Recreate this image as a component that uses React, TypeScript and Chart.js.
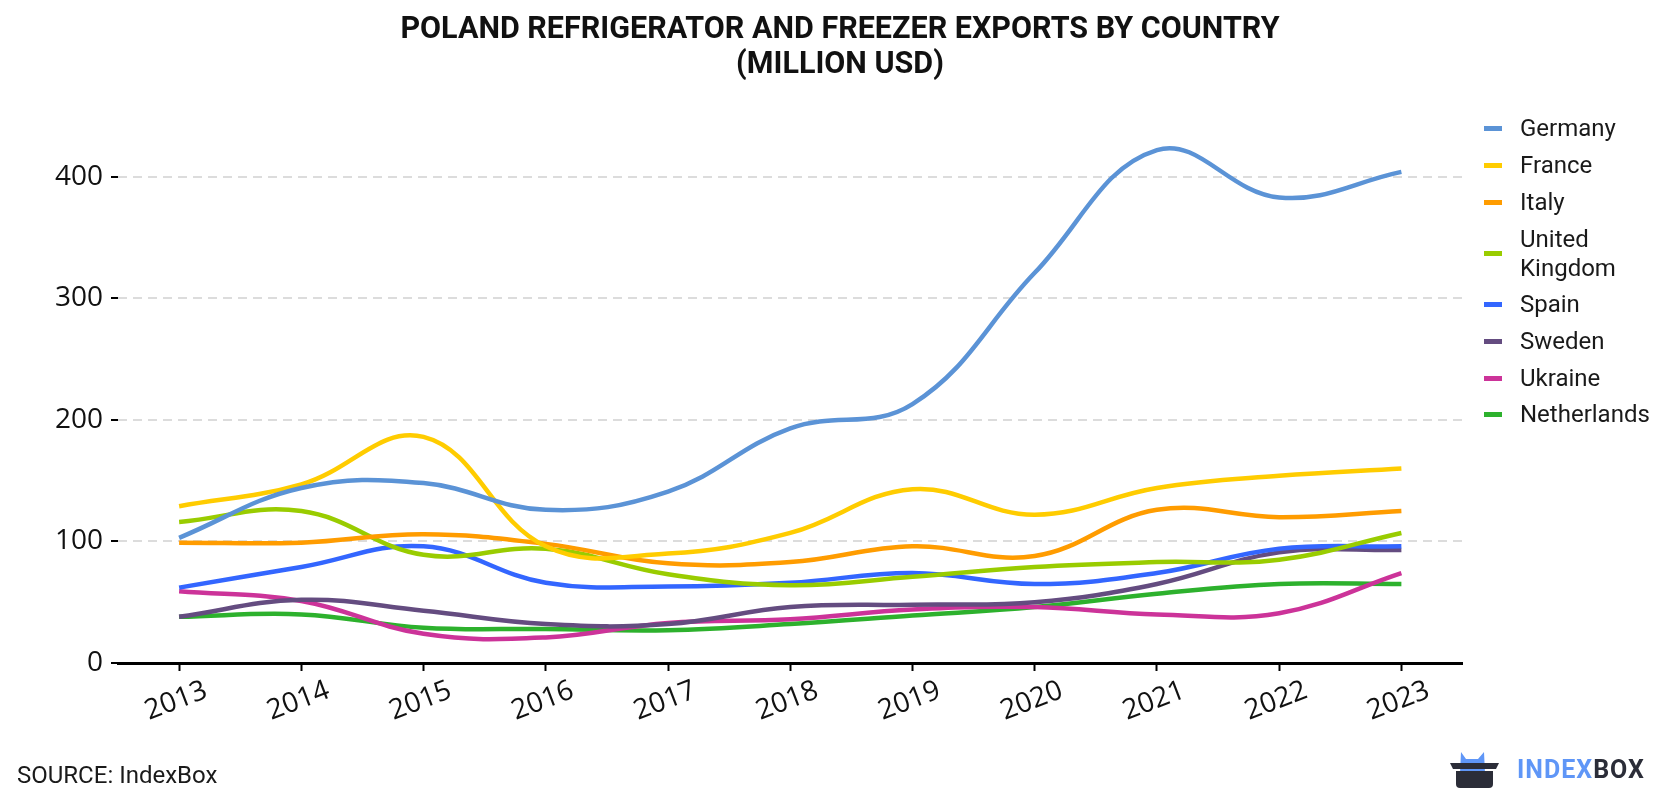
import React, { useEffect, useRef } from "react";
import { Chart, registerables } from "chart.js";

Chart.register(...registerables);

// Export values, million USD
const years = ["2013", "2014", "2015", "2016", "2017", "2018", "2019", "2020", "2021", "2022", "2023"];
const germany = [103, 144, 148, 126, 141, 193, 213, 321, 422, 383, 404];
const france = [129, 147, 186, 96, 90, 107, 143, 122, 144, 154, 160];
const italy = [99, 99, 106, 98, 82, 83, 96, 88, 126, 120, 125];
const unitedKingdom = [116, 125, 89, 94, 73, 64, 71, 79, 83, 85, 107];
const spain = [62, 79, 96, 66, 63, 66, 74, 65, 74, 94, 96];
const sweden = [38, 52, 43, 32, 32, 46, 48, 50, 65, 91, 93];
const ukraine = [59, 51, 24, 21, 33, 36, 44, 46, 40, 41, 74];
const netherlands = [38, 40, 29, 28, 27, 32, 39, 46, 57, 65, 65];

const seriesNames = ["Germany", "France", "Italy", "United Kingdom", "Spain", "Sweden", "Ukraine", "Netherlands"];
const seriesValues = [germany, france, italy, unitedKingdom, spain, sweden, ukraine, netherlands];
const seriesColors = ["#5b93d6", "#ffcc00", "#ff9c00", "#99cc00", "#3366ff", "#644c80", "#cc3399", "#2db12d"];

const yTickValues = [0, 100, 200, 300, 400];
const yMax = 450;

const titleLines = ["POLAND REFRIGERATOR AND FREEZER EXPORTS BY COUNTRY", "(MILLION USD)"];
const sourceText = "SOURCE: IndexBox";

const TICK_FONT = "28px 'Open Sans'";

// Year labels drawn centred under their tick marks and tilted upward
const yearLabelPlugin = {
  id: "yearLabels",
  afterDraw(chart: any) {
    const scale = chart.scales.x;
    const ctx = chart.ctx;
    ctx.save();
    ctx.font = TICK_FONT;
    ctx.fillStyle = "#111";
    ctx.textAlign = "center";
    ctx.textBaseline = "middle";
    scale.ticks.forEach((t: any, i: number) => {
      const x = scale.getPixelForTick(i);
      ctx.save();
      ctx.translate(x - 3, scale.top + 38);
      ctx.rotate((-21 * Math.PI) / 180);
      ctx.fillText(scale.getLabelForValue(t.value), 0, 0);
      ctx.restore();
    });
    ctx.restore();
  },
};

function LineChart() {
  const ref = useRef<HTMLCanvasElement | null>(null);

  useEffect(() => {
    if (!ref.current) return;
    const chart = new Chart(ref.current, {
      type: "line",
      data: {
        labels: years,
        datasets: seriesNames.map((name, i) => ({
          label: name,
          data: seriesValues[i],
          borderColor: seriesColors[i],
          backgroundColor: seriesColors[i],
          borderWidth: 4.5,
          pointRadius: 0,
          pointHoverRadius: 0,
          tension: 0.4,
          fill: false,
        })),
      },
      options: {
        responsive: false,
        animation: false,
        events: [],
        layout: { padding: { left: 0, top: 116, right: 217.5, bottom: 77 } },
        plugins: {
          legend: { display: false },
          title: { display: false },
          tooltip: { enabled: false },
        },
        scales: {
          x: {
            offset: true,
            ticks: { display: false },
            grid: {
              drawOnChartArea: false,
              drawTicks: true,
              tickLength: 8,
              tickColor: "#000",
              tickWidth: 2,
            },
            border: { display: true, color: "#000", width: 3 },
            afterFit(scale: any) {
              scale.height = 60;
            },
          },
          y: {
            min: 0,
            max: yMax,
            ticks: {
              stepSize: 100,
              font: { family: "'Open Sans'", size: 28 },
              color: "#111",
              padding: 8,
            },
            afterBuildTicks(scale: any) {
              scale.ticks = yTickValues.map((v) => ({ value: v }));
            },
            afterFit(scale: any) {
              scale.width = 118;
            },
            grid: {
              color: "#dcdcdc",
              lineWidth: 2,
              drawTicks: true,
              tickLength: 7,
              tickColor: "#000",
              tickWidth: 2,
              tickBorderDash: [],
            },
            border: { display: false, dash: [9, 6] },
          },
        },
      },
      plugins: [yearLabelPlugin],
    });
    return () => chart.destroy();
  }, []);

  return (
    <canvas
      ref={ref}
      width={1680}
      height={800}
      style={{ position: "absolute", left: 0, top: 0, width: 1680, height: 800, display: "block" }}
    />
  );
}

function Legend() {
  return (
    <div style={{ position: "absolute", left: 1484, top: 110.6, fontFamily: "Roboto", fontSize: 24, color: "#1a1a1a" }}>
      {seriesNames.map((name, i) => (
        <div key={name} style={{ display: "flex", alignItems: "center", padding: "3.85px 0", lineHeight: "29px" }}>
          <div style={{ width: 18, height: 5, background: seriesColors[i], marginRight: 18, flexShrink: 0 }} />
          <div style={{ width: 150 }}>{name}</div>
        </div>
      ))}
    </div>
  );
}

function Logo() {
  return (
    <div style={{ position: "absolute", left: 1450, top: 751, display: "flex", alignItems: "center" }}>
      <svg width={50} height={38} viewBox="0 0 50 38">
        <path d="M10 22 L11 1 L16 8 L28 8 L34 1 L35 22 Z" fill="#5f96f7" />
        <path d="M0 12 L49 12 L46 18 L3 18 Z" fill="#2b2d38" />
        <path d="M6 20 L43 20 L43 33 Q43 37 39 37 L10 37 Q6 37 6 33 Z" fill="#2b2d38" />
      </svg>
      <div
        style={{
          marginLeft: 17,
          fontFamily: "Roboto",
          fontWeight: 700,
          fontSize: 25,
          letterSpacing: 1,
          lineHeight: "38px",
        }}
      >
        <span style={{ color: "#5f96f7" }}>INDEX</span>
        <span style={{ color: "#2b2d38" }}>BOX</span>
      </div>
    </div>
  );
}

export default function App() {
  useEffect(() => {
    document.body.style.margin = "0";
  }, []);

  return (
    <div style={{ position: "relative", width: 1680, height: 800, overflow: "hidden", background: "#fff" }}>
      <LineChart />
      <div
        style={{
          position: "absolute",
          left: 0,
          top: 9.5,
          width: 1680,
          textAlign: "center",
          fontFamily: "Roboto",
          fontWeight: 700,
          fontSize: 30.5,
          lineHeight: "35px",
          color: "#111",
        }}
      >
        {titleLines.map((t) => (
          <div key={t}>{t}</div>
        ))}
      </div>
      <Legend />
      <div
        style={{
          position: "absolute",
          left: 17,
          top: 760,
          fontFamily: "Roboto",
          fontSize: 24,
          lineHeight: "30px",
          color: "#1a1a1a",
        }}
      >
        {sourceText}
      </div>
      <Logo />
    </div>
  );
}
